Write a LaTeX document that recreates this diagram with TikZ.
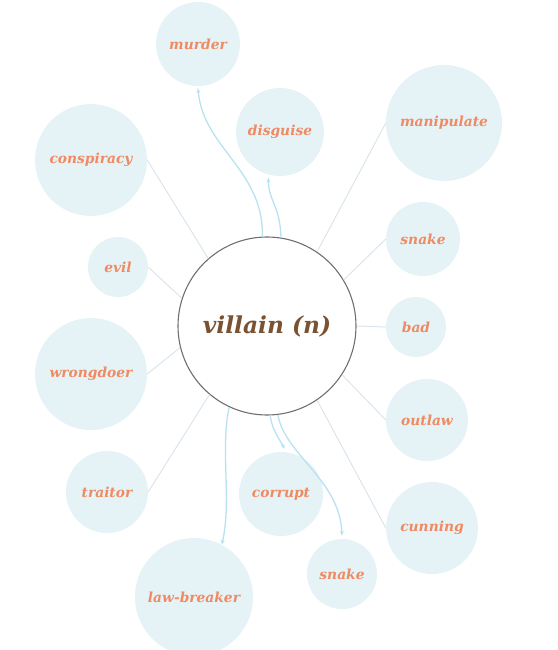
\documentclass[tikz,border=0pt]{standalone}
\usepackage{fontspec}
\setmainfont{DejaVu Serif}
\usetikzlibrary{arrows.meta}
\definecolor{bubble}{HTML}{E5F3F7}
\definecolor{lbl}{HTML}{EF8A62}
\definecolor{hub}{HTML}{7A5232}
\definecolor{conncol}{HTML}{DCE4EC}
\definecolor{arrcol}{HTML}{B8E2F2}
\definecolor{ring}{HTML}{707070}
\tikzset{
  bub/.style={circle, fill=bubble, inner sep=0pt, text=lbl, font=\fontsize{13.8}{16}\selectfont\bfseries\itshape},
  hubnode/.style={circle, draw=ring, line width=1.1pt, fill=white, inner sep=0pt, minimum size=178pt, text=hub, font=\fontsize{23.3}{27}\selectfont\bfseries\itshape},
  conn/.style={draw=conncol, line width=1pt},
  arr/.style={draw=arrcol, line width=1.3pt, -{Stealth[length=5pt,width=4pt]}}
}
\begin{document}
\begin{tikzpicture}[x=1pt,y=-1pt]
\useasboundingbox (0,0) rectangle (557,650);
\node[bub, minimum size=84pt] (murder) at (198,44) {murder};
\node[bub, minimum size=88pt] (disguise) at (280,132) {disguise};
\node[bub, minimum size=116pt] (manip) at (444,123) {manipulate};
\node[bub, minimum size=74pt] (snakeA) at (423,239) {snake};
\node[bub, minimum size=60pt] (bad) at (416,327) {bad};
\node[bub, minimum size=82pt] (outlaw) at (427,420) {outlaw};
\node[bub, minimum size=92pt] (cunning) at (432,528) {cunning};
\node[bub, minimum size=70pt] (snakeB) at (342,574) {snake};
\node[bub, minimum size=84pt] (corrupt) at (281,494) {corrupt};
\node[bub, minimum size=118pt] (lawb) at (194,597) {law-breaker};
\node[bub, minimum size=112pt] (consp) at (91,160) {conspiracy};
\node[bub, minimum size=60pt] (evil) at (118,267) {evil};
\node[bub, minimum size=112pt] (wrong) at (91,374) {wrongdoer};
\node[bub, minimum size=82pt] (traitor) at (107,492) {traitor};
\node[hubnode] (villain) at (267,326) {villain (n)};
% straight connectors
\draw[conn] (villain.131) -- (consp.east);
\draw[conn] (villain.162) -- (evil.east);
\draw[conn] (villain.194) -- (wrong.east);
\draw[conn] (villain.230) -- (traitor.east);
\draw[conn] (villain.56) -- (manip.west);
\draw[conn] (villain.31) -- (snakeA.west);
\draw[conn] (villain.0) -- (bad.west);
\draw[conn] (villain.-33) -- (outlaw.west);
\draw[conn] (villain.-56) -- (cunning.west);
% curved arrows
\draw[arr] (villain.93) .. controls (264,170) and (203,148) .. ([yshift=-2pt]murder.south);
\draw[arr] (villain.81) .. controls (280,205) and (268,200) .. ([yshift=-3pt]disguise.-105);
\draw[arr] (villain.245) .. controls (220,450) and (232,500) .. (lawb.62);
\draw[arr] (villain.-88) .. controls (272,430) and (280,440) .. ([yshift=3pt]corrupt.85);
\draw[arr] (villain.-83) .. controls (285,455) and (340,480) .. ([yshift=3pt]snakeB.north);
\end{tikzpicture}
\end{document}
